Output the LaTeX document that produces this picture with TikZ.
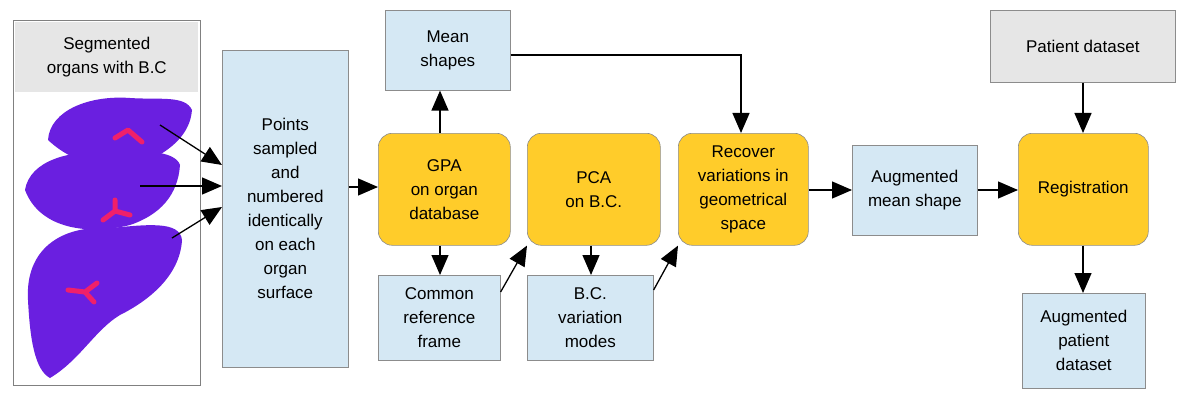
\documentclass[tikz,border=0pt]{standalone}
\usepackage{fontspec}
\setmainfont{Liberation Sans}
\usetikzlibrary{arrows.meta}
\definecolor{lb}{HTML}{D5E8F4}
\definecolor{yl}{HTML}{FFCC2A}
\definecolor{gr}{HTML}{E6E6E6}
\definecolor{liv}{HTML}{6A1FE0}
\definecolor{pk}{HTML}{F0206A}
\begin{document}
\begin{tikzpicture}[x=1pt,y=-1pt,
 base/.style={draw=black!45,line width=0.6pt,align=center,font=\fontsize{17}{24}\selectfont,inner sep=2pt},
 blue/.style={base,fill=lb},
 yel/.style={base,fill=yl,rounded corners=14pt},
 gry/.style={base,fill=gr},
 ar/.style={line width=1.3pt,-{Triangle[length=20pt,width=17pt]}}]
\useasboundingbox (0,0) rectangle (1193,401);
% left panel
\node[draw=black!50,line width=0.6pt,minimum width=187,minimum height=365,anchor=north west,inner sep=0] (panel) at (13,20) {};
\node[gry,draw=none,minimum width=183,minimum height=70,anchor=north west] (seg) at (15,22) {Segmented\\organs with B.C};
% livers
\begin{scope}[fill=liv]
\fill (48,140) .. controls (50,110) and (90,95) .. (130,98) .. controls (160,100) and (185,95) .. (192,110) .. controls (190,135) and (170,150) .. (150,160) .. controls (120,170) and (80,170) .. (48,140) -- cycle;
\fill (25,190) .. controls (30,160) and (70,150) .. (110,152) .. controls (140,150) and (175,150) .. (180,165) .. controls (178,195) and (160,215) .. (130,225) .. controls (90,235) and (40,230) .. (25,190) -- cycle;
\fill (28,300) .. controls (25,250) and (60,225) .. (110,228) .. controls (145,225) and (180,220) .. (182,240) .. controls (180,275) and (150,300) .. (120,315) .. controls (95,330) and (80,360) .. (50,378) .. controls (35,370) and (30,340) .. (28,300) -- cycle;
\end{scope}
\begin{scope}[draw=pk,line width=5pt,line cap=round,line join=round]
\draw (115,138) -- (128,130) -- (142,142);
\draw (103,220) -- (115,211) -- (130,215) (115,211) -- (115,200);
\draw (68,290) -- (85,292) -- (97,283) (85,292) -- (94,302);
\end{scope}
\coordinate (l1) at (160,125);
\coordinate (l2) at (140,186);
\coordinate (l3) at (172,238);
% boxes
\node[blue,minimum width=126,minimum height=317,anchor=north west] (pts) at (222,50) {Points\\sampled\\and\\numbered\\identically\\on each\\organ\\surface};
\node[blue,minimum width=125,minimum height=80,anchor=north west] (mean) at (385,10) {Mean\\shapes};
\node[yel,minimum width=132,minimum height=112,anchor=north west] (gpa) at (378,133) {GPA\\on organ\\database};
\node[blue,minimum width=122,minimum height=85,anchor=north west] (crf) at (378,275) {Common\\reference\\frame};
\node[yel,minimum width=133,minimum height=112,anchor=north west] (pca) at (527,133) {PCA\\on B.C.};
\node[blue,minimum width=126,minimum height=85,anchor=north west] (bcv) at (527,275) {B.C.\\variation\\modes};
\node[yel,minimum width=130,minimum height=112,anchor=north west] (rec) at (678,133) {Recover\\variations in\\geometrical\\space};
\node[blue,minimum width=125,minimum height=90,anchor=north west] (aug) at (852,145) {Augmented\\mean shape};
\node[yel,minimum width=130,minimum height=112,anchor=north west] (reg) at (1018,133) {Registration};
\node[gry,minimum width=185,minimum height=72,anchor=north west] (pat) at (990,10) {Patient dataset};
\node[blue,minimum width=123,minimum height=95,anchor=north west] (augp) at (1022,293) {Augmented\\patient\\dataset};
% arrows
\draw[ar] (l1) -- (pts.west|-0,165);
\draw[ar] (l2) -- (pts.west|-0,186);
\draw[ar] (l3) -- (pts.west|-0,207);
\draw[ar] (pts.east|-0,187) -- (gpa.west|-0,187);
\draw[ar] (gpa.north-|440,0) -- (mean.south-|440,0);
\draw[ar] (gpa.south-|440,0) -- (crf.north-|440,0);
\draw[ar] (crf.east|-0,292) -- (pca.south west);
\draw[ar] (pca.south-|591,0) -- (bcv.north-|591,0);
\draw[ar] (bcv.east|-0,290) -- (rec.south west);
\draw[ar] (mean.east|-0,55) -| (rec.north-|741,0);
\draw[ar] (rec.east|-0,190) -- (aug.west|-0,190);
\draw[ar] (aug.east|-0,190) -- (reg.west|-0,190);
\draw[ar] (pat.south-|1083,0) -- (reg.north-|1083,0);
\draw[ar] (reg.south-|1083,0) -- (augp.north-|1083,0);
\end{tikzpicture}
\end{document}
